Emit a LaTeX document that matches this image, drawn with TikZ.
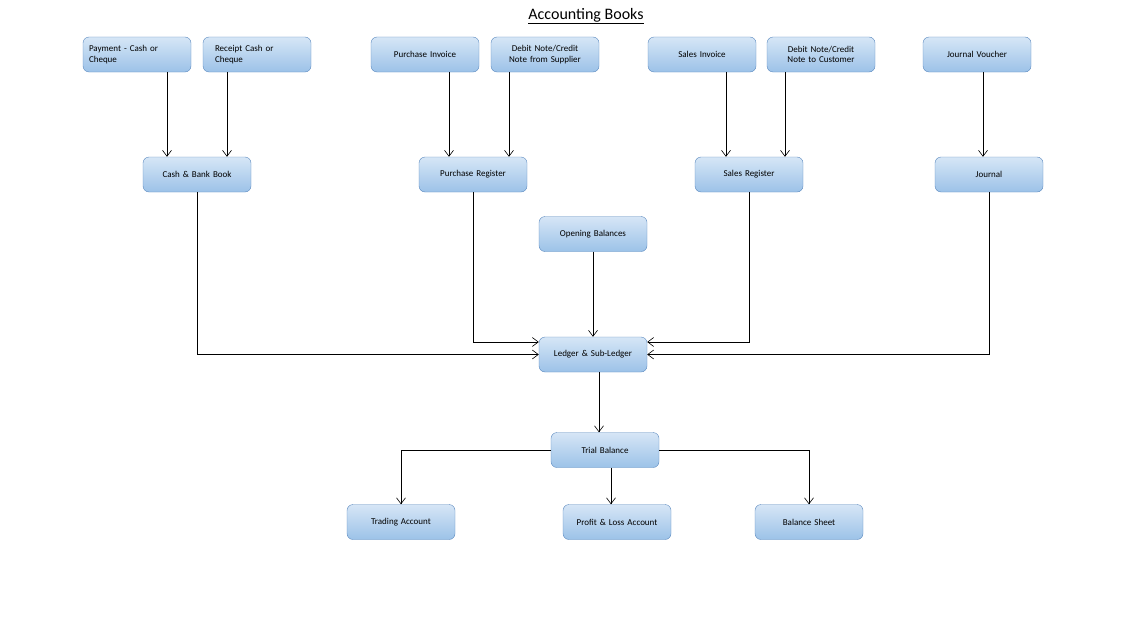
\documentclass[tikz,border=0pt]{standalone}
\usepackage{fontspec}
\setmainfont{Carlito}
\usetikzlibrary{arrows.meta}
\definecolor{bordc}{HTML}{5A88BE}
\definecolor{topc}{HTML}{D6E6F6}
\definecolor{botc}{HTML}{9CC2E8}
\begin{document}
\begin{tikzpicture}[x=1pt,y=-1pt,
  box/.style={draw=bordc,rounded corners=6pt,top color=topc,bottom color=botc,minimum width=108pt,minimum height=35pt,inner sep=2pt,font=\fontsize{9}{10.5}\selectfont,align=left,text width=96pt},
  cbox/.style={box,align=center},
  arr/.style={draw,-{Straight Barb[length=6pt,width=9pt]},line width=0.6pt}]
\useasboundingbox (0,0) rectangle (1131,634);
\node[font=\fontsize{16}{18}\selectfont] (title) at (586,16) {\underline{Accounting Books}};
\node[box] (pay) at (137,54.5) {Payment - Cash or\\Cheque};
\node[box] (rec) at (257,54.5) {\hspace{6pt}Receipt Cash or\\\hspace{6pt}Cheque};
\node[cbox] (pinv) at (425,54.5) {Purchase Invoice};
\node[cbox] (dns) at (545,54.5) {Debit Note/Credit\\Note from Supplier};
\node[cbox] (sinv) at (702,54.5) {Sales Invoice};
\node[cbox] (dnc) at (821,54.5) {Debit Note/Credit\\Note to Customer};
\node[cbox] (jv) at (977,54.5) {Journal Voucher};
\node[cbox] (cash) at (197,174.5) {Cash \& Bank Book};
\node[cbox] (preg) at (473,174.5) {Purchase Register};
\node[cbox] (sreg) at (749,174.5) {Sales Register};
\node[cbox] (jour) at (989,174.5) {Journal};
\node[cbox] (open) at (593,234) {Opening Balances};
\node[cbox] (led) at (593,354.5) {Ledger \& Sub-Ledger};
\node[cbox] (tb) at (605,450) {Trial Balance};
\node[cbox] (trad) at (401,522) {Trading Account};
\node[cbox] (pl) at (617,522) {Profit \& Loss Account};
\node[cbox] (bs) at (809,522) {Balance Sheet};
\draw[arr] (pay.south -| 167,0) -- (cash.north -| 167,0);
\draw[arr] (rec.south -| 227,0) -- (cash.north -| 227,0);
\draw[arr] (pinv.south -| 449,0) -- (preg.north -| 449,0);
\draw[arr] (dns.south -| 509,0) -- (preg.north -| 509,0);
\draw[arr] (sinv.south -| 726,0) -- (sreg.north -| 726,0);
\draw[arr] (dnc.south -| 785,0) -- (sreg.north -| 785,0);
\draw[arr] (jv.south -| 983,0) -- (jour.north -| 983,0);
\draw[arr] (cash.south) |- (led.west);
\draw[arr] (preg.south) |- (led.west |- 0,342);
\draw[arr] (open.south) -- (led.north);
\draw[arr] (sreg.south) |- (led.east |- 0,342);
\draw[arr] (jour.south) |- (led.east);
\draw[arr] (led.south -| 599,0) -- (tb.north -| 599,0);
\draw[arr] (tb.west) -| (trad.north);
\draw[arr] (tb.south -| 611,0) -- (pl.north -| 611,0);
\draw[arr] (tb.east) -| (bs.north);
\end{tikzpicture}
\end{document}
